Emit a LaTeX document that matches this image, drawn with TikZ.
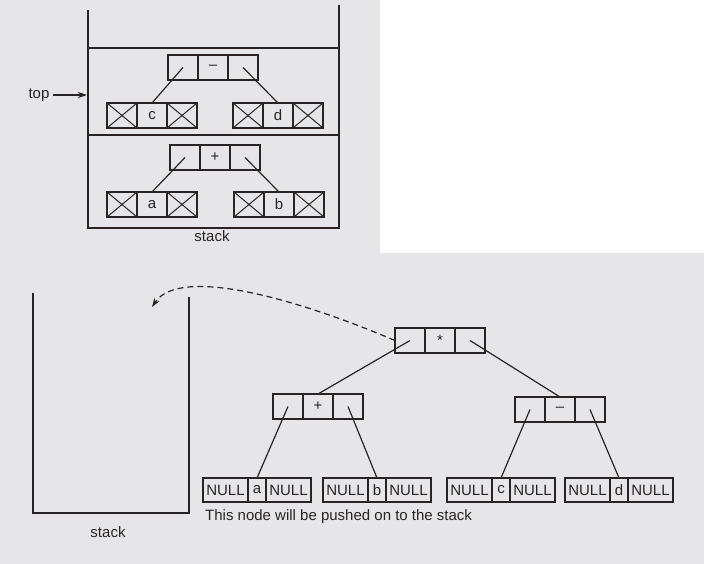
\documentclass[tikz,border=0pt]{standalone}
\usepackage{fontspec}
\setmainfont{Liberation Sans}
\usepackage{tikz}
\usetikzlibrary{arrows.meta}

\definecolor{ink}{RGB}{40,36,36}
\definecolor{paper}{RGB}{230,230,232}

% one record of three cells, left to right
\newcommand\trio[7]{%
  \node[#3] (#1l) at #2 {#5};
  \node[#4] (#1m) at (#1l.north east) {#6};
  \node[#3] (#1r) at (#1m.north east) {#7};
}

\tikzset{
  every node/.style={font=\fontsize{15}{18}\selectfont, text=ink},
  cell/.style={draw=ink, line width=2pt, inner sep=0pt, outer sep=0pt,
    minimum width=30, minimum height=25, anchor=north west},
  nil/.style={cell, path picture={
      \draw[ink, line width=1pt]
        (path picture bounding box.south west) -- (path picture bounding box.north east)
        (path picture bounding box.north west) -- (path picture bounding box.south east);}},
  nullc/.style={cell, minimum width=45, minimum height=24},
  keyc/.style={cell, minimum width=18, minimum height=24},
  link/.style={draw=ink, line width=1.2pt},
  wall/.style={draw=ink, line width=2.4pt},
}

\begin{document}
\begin{tikzpicture}[x=1pt, y=-1pt]
  \useasboundingbox (0,0) rectangle (704,564);
  \fill[paper] (0,0) rectangle (704,564);
  \fill[white] (380,0) rectangle (704,253);

  % stack holding the two subtrees
  \draw[wall] (88,10) -- (88,228) -- (339,228) -- (339,5);
  \draw[wall, line width=2pt] (88,48) -- (339,48);
  \draw[wall, line width=2pt] (88,135) -- (339,135);
  \node (toplbl) at (39,95) {top};
  \coordinate (topslot) at (87,95);
  \draw[link, -{Stealth[length=9pt,width=6pt]}] (toplbl.east) -- (topslot);
  \node (stack1) at (212,236) {stack};

  \trio{tm}{(168,55)}{cell}{cell}{}{\textendash}{}
  \trio{tc}{(107,103)}{nil}{cell}{}{c}{}
  \trio{td}{(233,103)}{nil}{cell}{}{d}{}
  \draw[link] (tml.center) -- (tcm.north);
  \draw[link] (tmr.center) -- (tdm.north);

  \trio{tp}{(170,145)}{cell}{cell}{}{+}{}
  \trio{ta}{(107,192)}{nil}{cell}{}{a}{}
  \trio{tb}{(234,192)}{nil}{cell}{}{b}{}
  \draw[link] (tpl.center) -- (tam.north);
  \draw[link] (tpr.center) -- (tbm.north);

  % empty stack and the whole tree
  \draw[wall] (33,293) -- (33,513) -- (189,513) -- (189,297);
  \node (stack2) at (108,532) {stack};

  \trio{st}{(395,328)}{cell}{cell}{}{*}{}
  \trio{pl}{(273,394)}{cell}{cell}{}{+}{}
  \trio{mi}{(515,397)}{cell}{cell}{}{\textendash}{}
  \trio{la}{(203,478)}{nullc}{keyc}{NULL}{a}{NULL}
  \trio{lb}{(323,478)}{nullc}{keyc}{NULL}{b}{NULL}
  \trio{lc}{(447,478)}{nullc}{keyc}{NULL}{c}{NULL}
  \trio{ld}{(565,478)}{nullc}{keyc}{NULL}{d}{NULL}

  \draw[link] (stl.center) -- (plm.north);
  \draw[link] (str.center) -- (mim.north);
  \draw[link] (pll.center) -- (lam.north);
  \draw[link] (plr.center) -- (lbm.north);
  \draw[link] (mil.center) -- (lcm.north);
  \draw[link] (mir.center) -- (ldm.north);

  \node[anchor=west, inner sep=0pt] (note) at (205,517)
    {This node will be pushed on to the stack};

  \coordinate (pushin) at (152,307);
  \draw[link, dashed, dash pattern=on 6pt off 4pt, -{Stealth[length=9pt,width=6pt]}]
    (stl.west) .. controls (300,300) and (180,265) .. (pushin);
\end{tikzpicture}
\end{document}
